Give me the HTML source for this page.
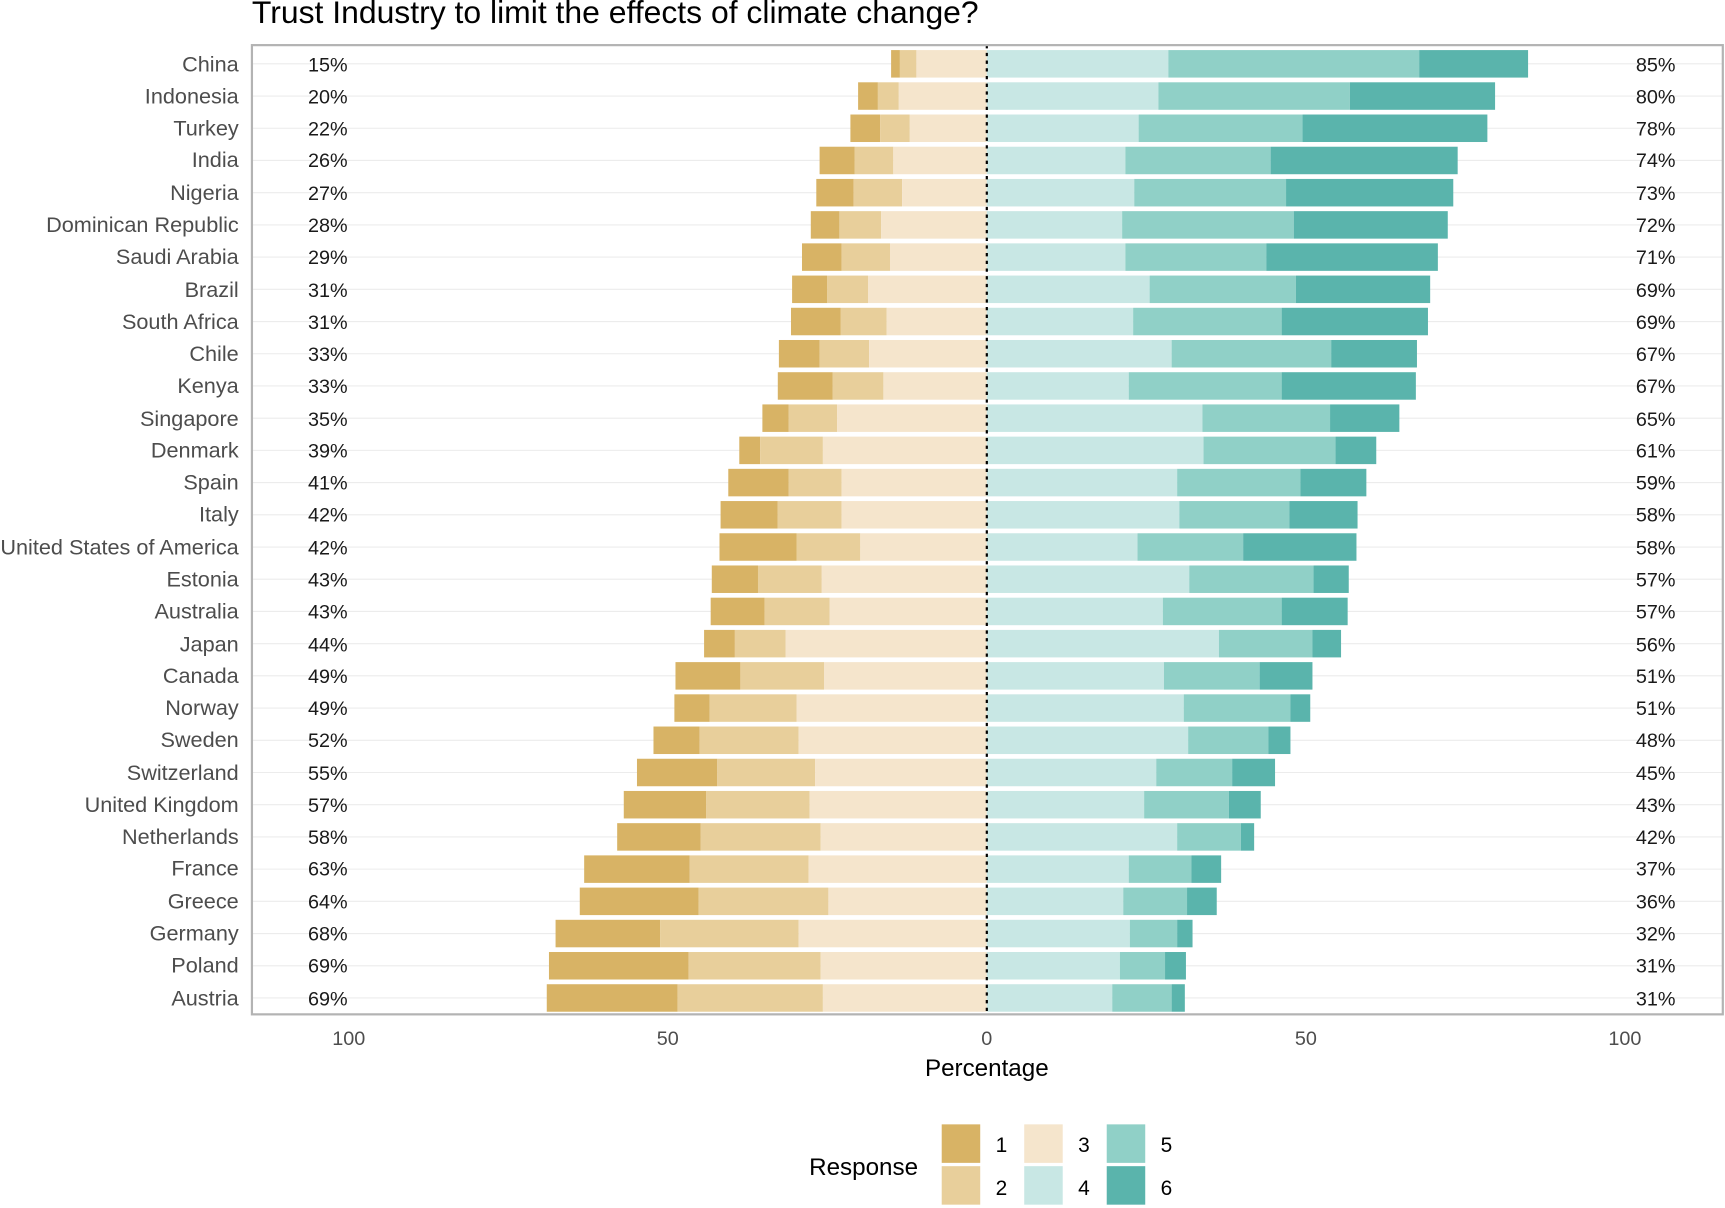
<!DOCTYPE html>
<html><head><meta charset="utf-8"><style>
html,body{margin:0;padding:0;background:#fff;}
svg{display:block;font-family:"Liberation Sans",sans-serif;}
</style></head><body>
<svg id="s" width="1725" height="1208" viewBox="0 0 1568 1098" xmlns="http://www.w3.org/2000/svg">
<rect x="0" y="0" width="1568" height="1098" fill="#fff"/>
<text x="229" y="21" font-size="29" fill="#000">Trust Industry to limit the effects of climate change?</text>
<g id="bars"></g>
<line x1="897" y1="41" x2="897" y2="921" stroke="#000" stroke-width="2" stroke-dasharray="3,4"/>
<rect x="229" y="41" width="1337" height="881" fill="none" stroke="#b3b3b3" stroke-width="2"/>
<g font-size="19.7" fill="#4d4d4d" text-anchor="end" id="cl">
<text x="217" y="65">China</text><text x="217" y="94">Indonesia</text><text x="217" y="123">Turkey</text><text x="217" y="152">India</text><text x="217" y="182">Nigeria</text><text x="217" y="211">Dominican Republic</text><text x="217" y="240">Saudi Arabia</text><text x="217" y="270">Brazil</text><text x="217" y="299">South Africa</text><text x="217" y="328">Chile</text><text x="217" y="357">Kenya</text><text x="217" y="387">Singapore</text><text x="217" y="416">Denmark</text><text x="217" y="445">Spain</text><text x="217" y="474">Italy</text><text x="217" y="504">United States of America</text><text x="217" y="533">Estonia</text><text x="217" y="562">Australia</text><text x="217" y="592">Japan</text><text x="217" y="621">Canada</text><text x="217" y="650">Norway</text><text x="217" y="679">Sweden</text><text x="217" y="709">Switzerland</text><text x="217" y="738">United Kingdom</text><text x="217" y="767">Netherlands</text><text x="217" y="796">France</text><text x="217" y="826">Greece</text><text x="217" y="855">Germany</text><text x="217" y="884">Poland</text><text x="217" y="914">Austria</text>
</g>
<g font-size="18" fill="#1a1a1a" text-anchor="middle">
<text x="298" y="65">15%</text><text x="298" y="94">20%</text><text x="298" y="123">22%</text><text x="298" y="152">26%</text><text x="298" y="182">27%</text><text x="298" y="211">28%</text><text x="298" y="240">29%</text><text x="298" y="270">31%</text><text x="298" y="299">31%</text><text x="298" y="328">33%</text><text x="298" y="357">33%</text><text x="298" y="387">35%</text><text x="298" y="416">39%</text><text x="298" y="445">41%</text><text x="298" y="474">42%</text><text x="298" y="504">42%</text><text x="298" y="533">43%</text><text x="298" y="562">43%</text><text x="298" y="592">44%</text><text x="298" y="621">49%</text><text x="298" y="650">49%</text><text x="298" y="679">52%</text><text x="298" y="709">55%</text><text x="298" y="738">57%</text><text x="298" y="767">58%</text><text x="298" y="796">63%</text><text x="298" y="826">64%</text><text x="298" y="855">68%</text><text x="298" y="884">69%</text><text x="298" y="914">69%</text>
<text x="1505" y="65">85%</text><text x="1505" y="94">80%</text><text x="1505" y="123">78%</text><text x="1505" y="152">74%</text><text x="1505" y="182">73%</text><text x="1505" y="211">72%</text><text x="1505" y="240">71%</text><text x="1505" y="270">69%</text><text x="1505" y="299">69%</text><text x="1505" y="328">67%</text><text x="1505" y="357">67%</text><text x="1505" y="387">65%</text><text x="1505" y="416">61%</text><text x="1505" y="445">59%</text><text x="1505" y="474">58%</text><text x="1505" y="504">58%</text><text x="1505" y="533">57%</text><text x="1505" y="562">57%</text><text x="1505" y="592">56%</text><text x="1505" y="621">51%</text><text x="1505" y="650">51%</text><text x="1505" y="679">48%</text><text x="1505" y="709">45%</text><text x="1505" y="738">43%</text><text x="1505" y="767">42%</text><text x="1505" y="796">37%</text><text x="1505" y="826">36%</text><text x="1505" y="855">32%</text><text x="1505" y="884">31%</text><text x="1505" y="914">31%</text>
</g>
<g font-size="18" fill="#4d4d4d" text-anchor="middle">
<text x="317" y="950">100</text><text x="607" y="950">50</text><text x="897" y="950">0</text><text x="1187" y="950">50</text><text x="1477" y="950">100</text>
</g>
<text x="897" y="978" font-size="22" text-anchor="middle" fill="#000">Percentage</text>
<text x="785" y="1068" font-size="22" text-anchor="middle" fill="#000">Response</text>
<rect x="856" y="1022" width="35" height="35" fill="#d8b365"/>
<rect x="856" y="1060" width="35" height="35" fill="#e8cf9b"/>
<rect x="931" y="1022" width="35" height="35" fill="#f5e5cc"/>
<rect x="931" y="1060" width="35" height="35" fill="#c8e7e4"/>
<rect x="1006" y="1022" width="35" height="35" fill="#90d0c7"/>
<rect x="1006" y="1060" width="35" height="35" fill="#5ab4ac"/>
<g font-size="19" fill="#000">
<text x="905" y="1047">1</text><text x="905" y="1086">2</text><text x="980" y="1047">3</text><text x="980" y="1086">4</text><text x="1055" y="1047">5</text><text x="1055" y="1086">6</text>
</g>
</svg>
<script>
var d=[[810,818,833,1062,1290,1389],[780,798,817,1053,1227,1359],[773,800,827,1035,1184,1352],[745,777,812,1023,1155,1325],[742,776,820,1031,1169,1321],[737,763,801,1020,1176,1316],[729,765,809,1023,1151,1307],[720,752,789,1045,1178,1300],[719,764,806,1030,1165,1298],[708,745,790,1065,1210,1288],[707,757,803,1026,1165,1287],[693,717,761,1093,1209,1272],[672,691,748,1094,1214,1251],[662,717,765,1070,1182,1242],[655,707,765,1072,1172,1234],[654,724,782,1034,1130,1233],[647,689,747,1081,1194,1226],[646,695,754,1057,1165,1225],[640,668,714,1108,1193,1219],[614,673,749,1058,1145,1193],[613,645,724,1076,1173,1191],[594,636,726,1080,1153,1173],[579,652,741,1051,1120,1159],[567,642,736,1040,1117,1146],[561,637,746,1070,1128,1140],[531,627,735,1026,1083,1110],[527,635,753,1021,1079,1106],[505,600,726,1027,1070,1084],[499,626,746,1018,1059,1078],[497,616,748,1011,1065,1077]];
var c=["#d8b365","#e8cf9b","#f5e5cc","#c8e7e4","#90d0c7","#5ab4ac"];
var g=document.getElementById('bars'),h='';
for(var i=0;i<30;i++){var y=58+i*29.28,r=d[i];
h+='<line x1="229" x2="1566" y1="'+y+'" y2="'+y+'" stroke="#ececec" stroke-width="1"/>';
var xs=[r[0],r[1],r[2],897,r[3],r[4],r[5]];
for(var k=0;k<6;k++){h+='<rect x="'+xs[k]+'" y="'+(y-12.5)+'" width="'+(xs[k+1]-xs[k])+'" height="25" fill="'+c[k]+'"/>';}}
g.innerHTML=h;
</script>
</body></html>
